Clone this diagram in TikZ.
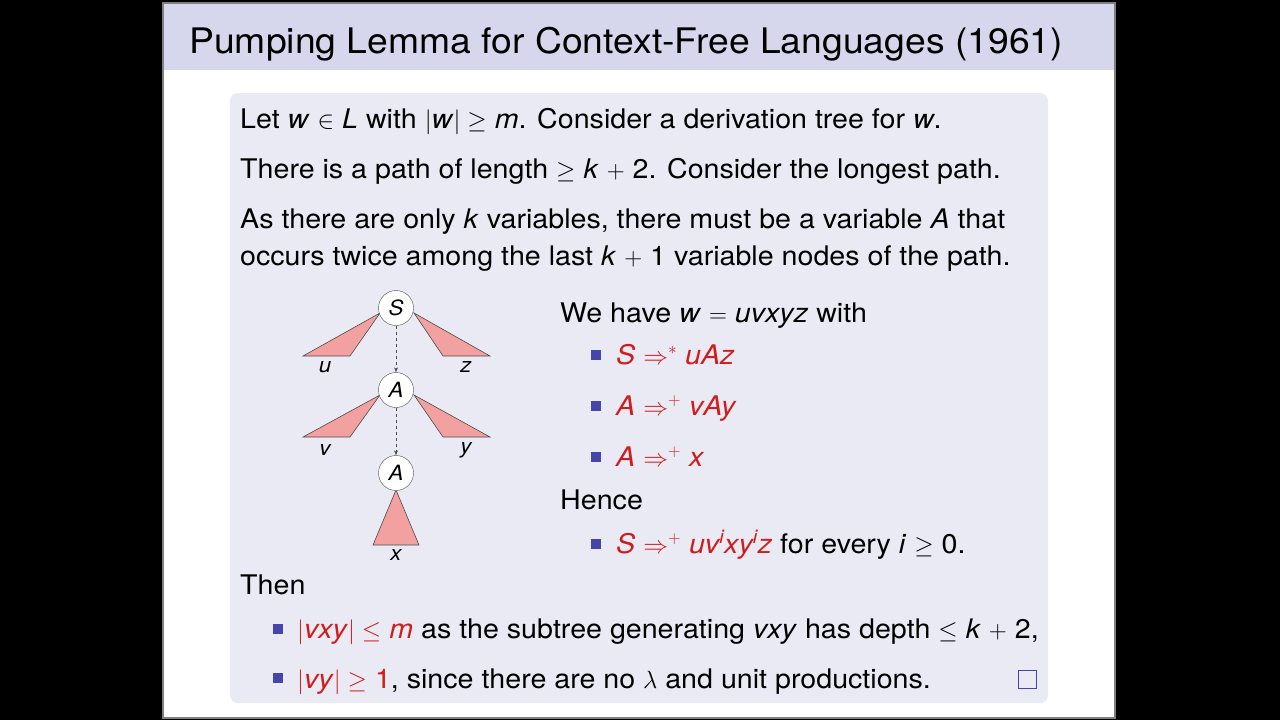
\documentclass[tikz,border=0pt]{standalone}
\usepackage{fontspec}
\setmainfont{TeX Gyre Heros}[FakeStretch=1.06]
\usetikzlibrary{arrows.meta}
\definecolor{titlebg}{HTML}{D6D6EC}
\definecolor{boxbg}{HTML}{EAEAF4}
\definecolor{myred}{HTML}{D01C1C}
\definecolor{myblue}{HTML}{4646AA}
\definecolor{tri}{HTML}{F2A0A0}
\tikzset{
  txt/.style={anchor=base west, inner sep=0pt, font=\fontsize{27}{31}\selectfont},
  bul/.style={fill=myblue, minimum size=10pt, inner sep=0pt},
  var/.style={circle, draw=black!70, fill=white, minimum size=35pt, inner sep=0pt, font=\fontsize{21}{24}\selectfont\itshape},
  sub/.style={draw=black!70, fill=tri, line width=0.6pt},
  lab/.style={inner sep=0pt, font=\fontsize{21}{24}\selectfont\itshape},
  darr/.style={dashed, draw=black!70, -{Stealth[length=5pt]}}
}
\newcommand{\I}[1]{\textit{#1}}
\newcommand{\R}[1]{\textcolor{myred}{#1}}
\begin{document}
\begin{tikzpicture}[x=1pt,y=-1pt]
\fill[black] (0,0) rectangle (1280,720);
\useasboundingbox (0,0) rectangle (1280,720);
\fill[white] (163,3) rectangle (1115,718);
\draw[gray,line width=1.5pt] (163,3) rectangle (1115,718);
\fill[titlebg] (164,4) rectangle (1114,70);
\node[anchor=base west,inner sep=0pt,font=\fontsize{35.2}{42}\selectfont] (title) at (189,53) {Pumping Lemma for Context-Free Languages (1961)};
\fill[boxbg,rounded corners=8pt] (230,93) rectangle (1048,703);

\node[txt] (l1) at (240,128) {Let \I{w} $\in$ \I{L} with $|$\I{w}$|\geq$ \I{m}. Consider a derivation tree for \I{w}.};
\node[txt] (l2) at (240,178) {There is a path of length $\geq$ \I{k} $+$ 2. Consider the longest path.};
\node[txt] (l3) at (240,228) {As there are only \I{k} variables, there must be a variable \I{A} that};
\node[txt] (l4) at (240,265) {occurs twice among the last \I{k} $+$ 1 variable nodes of the path.};
\node[txt] (l5) at (560,322) {We have \I{w} $=$ \I{uvxyz} with};
\node[bul] (b1) at (596,355) {};
\node[txt] (t1) at (616,364) {\R{\I{S} $\Rightarrow^*$ \I{uAz}}};
\node[bul] (b2) at (596,406) {};
\node[txt] (t2) at (616,415) {\R{\I{A} $\Rightarrow^+$ \I{vAy}}};
\node[bul] (b3) at (596,457) {};
\node[txt] (t3) at (616,466) {\R{\I{A} $\Rightarrow^+$ \I{x}}};
\node[txt] (l6) at (560,509) {Hence};
\node[bul] (b4) at (596,544) {};
\node[txt] (t4) at (616,553) {\R{\I{S} $\Rightarrow^+$ \I{uv\textsuperscript{i}xy\textsuperscript{i}z}} for every \I{i} $\geq$ 0.};
\node[txt] (l7) at (240,594) {Then};
\node[bul] (b5) at (278,629) {};
\node[txt] (t5) at (297,638) {\R{$|$\I{vxy}$|\leq$ \I{m}} as the subtree generating \I{vxy} has depth $\leq$ \I{k} $+$ 2,};
\node[bul] (b6) at (278,678) {};
\node[txt] (t6) at (297,688) {\R{$|$\I{vy}$|\geq$ 1}, since there are no $\lambda$ and unit productions.};
\node[draw=myblue,line width=0.8pt,minimum size=18pt,inner sep=0pt] (qed) at (1027,679) {};

% tree
\draw[sub] (380,313) -- (303,356) -- (350,356) -- cycle;
\draw[sub] (414,313) -- (443,356) -- (490,356) -- cycle;
\draw[sub] (380,395) -- (303,437) -- (350,437) -- cycle;
\draw[sub] (414,395) -- (443,437) -- (490,437) -- cycle;
\draw[sub] (396,490) -- (373,545) -- (419,545) -- cycle;
\node[var] (S) at (396,308) {S};
\node[var] (A1) at (396,390) {A};
\node[var] (A2) at (396,473) {A};
\draw[darr] (S) -- (A1);
\draw[darr] (A1) -- (A2);
\node[lab] (u) at (325,367) {u};
\node[lab] (z) at (466,367) {z};
\node[lab] (v) at (325,450) {v};
\node[lab] (y) at (466,450) {y};
\node[lab] (x) at (396,555) {x};
\end{tikzpicture}
\end{document}
